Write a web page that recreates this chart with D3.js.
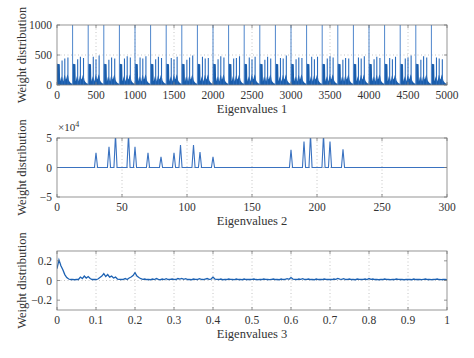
<!DOCTYPE html>
<html>
<head>
<meta charset="utf-8">
<script src="https://cdn.jsdelivr.net/npm/d3@7"></script>
<style>
  body { margin: 0; background: #fff; }
  text { font-family: "Liberation Serif", "Times New Roman", serif; fill: #333; }
</style>
</head>
<body>
<svg width="474" height="358"></svg>
<script>
// ---- panel 1 data ----
const periodStart1 = [0, 200, 400, 600, 800, 1000, 1200, 1400, 1600, 1800, 2000, 2200, 2400,
  2600, 2800, 3000, 3200, 3400, 3600, 3800, 4000, 4200, 4400, 4600, 4800];
const tallX1 = [200, 400, 600, 800, 1000, 1200, 1400, 1600, 1800, 2000, 2200, 2400,
  2600, 2800, 3000, 3200, 3400, 3600, 3800, 4000, 4200, 4400, 4600, 4800];
// envelope of the dense part inside one period
const envOffsets1 = [0, 2, 36, 40, 48, 56, 60, 64, 72, 80, 88, 96, 104, 112, 120, 128, 136, 144, 152, 160, 170, 180, 190, 199];
const envLevels1 = [340, 355, 345, 60, 110, 150, 90, 140, 100, 60, 120, 170, 150, 90, 110, 150, 180, 140, 80, 60, 40, 30, 25, 20];
// medium spikes in each period
const midOffsets1 = [65, 100, 140];
const midA1 = [410, 430, 470, 420, 440, 460, 430, 450, 420, 470, 430, 440, 460, 420, 450, 430, 470, 440, 420, 460, 430, 450, 440, 420, 460];
const midB1 = [440, 470, 430, 460, 480, 440, 470, 430, 460, 440, 480, 450, 430, 470, 440, 460, 430, 480, 450, 440, 470, 430, 460, 480, 440];
const midC1 = [460, 450, 490, 440, 460, 480, 450, 470, 490, 450, 460, 480, 470, 440, 490, 450, 470, 460, 440, 480, 450, 470, 490, 460, 430];
const xTicks1 = [0, 500, 1000, 1500, 2000, 2500, 3000, 3500, 4000, 4500, 5000];
const yTicks1 = [0, 500, 1000];

// ---- panel 2 data (x10^4) ----
const peakX2 = [30, 40, 45, 55, 60, 70, 80, 90, 95, 105, 110, 120, 180, 190, 195, 205, 210, 220];
const peakY2 = [2.5, 3.5, 5.6, 5.6, 3.5, 2.5, 1.8, 2.5, 3.8, 3.8, 2.6, 1.8, 3.0, 4.4, 5.6, 5.6, 4.4, 3.1];
const xTicks2 = [0, 50, 100, 150, 200, 250, 300];
const yTicks2 = [-5, 0, 5];

// ---- panel 3 data (step 0.005) ----
const values3 = [
  0.12, 0.21, 0.15, 0.11, 0.06, 0.03, 0.015, 0.01, 0.012, 0.008, 0.012, 0.01, 0.035, 0.02, 0.045, 0.025, 0.04, 0.02, 0.01, 0.012,
  0.01, 0.015, 0.03, 0.045, 0.07, 0.04, 0.06, 0.035, 0.045, 0.025, 0.035, 0.015, 0.012, 0.01, 0.012, 0.02, 0.01, 0.025, 0.035, 0.05,
  0.08, 0.045, 0.03, 0.018, 0.012, 0.015, 0.01, 0.012, 0.008, 0.015, 0.01, 0.02, 0.012, 0.008, 0.015, 0.01, 0.018, 0.01, 0.012, 0.015,
  0.012, 0.01, 0.02, 0.015, 0.022, 0.012, 0.018, 0.01, 0.012, 0.008, 0.015, 0.012, 0.01, 0.018, 0.012, 0.01, 0.015, 0.02, 0.012, 0.015,
  0.035, 0.015, 0.012, 0.01, 0.015, 0.008, 0.012, 0.01, 0.015, 0.012, 0.01, 0.008, 0.015, 0.01, 0.012, 0.008, 0.015, 0.01, 0.012, 0.01,
  0.012, 0.015, 0.01, 0.008, 0.012, 0.01, 0.015, 0.012, 0.01, 0.008, 0.012, 0.015, 0.01, 0.012, 0.008, 0.015, 0.01, 0.012, 0.018, 0.012,
  0.03, 0.015, 0.012, 0.01, 0.015, 0.012, 0.018, 0.01, 0.012, 0.015, 0.01, 0.012, 0.008, 0.015, 0.01, 0.012, 0.01, 0.015, 0.012, 0.01,
  0.012, 0.01, 0.015, 0.012, 0.022, 0.015, 0.012, 0.018, 0.01, 0.012, 0.015, 0.01, 0.012, 0.008, 0.015, 0.012, 0.01, 0.012, 0.015, 0.01,
  0.02, 0.012, 0.015, 0.01, 0.012, 0.008, 0.012, 0.01, 0.015, 0.012, 0.01, 0.008, 0.012, 0.01, 0.015, 0.012, 0.01, 0.012, 0.008, 0.012,
  0.01, 0.012, 0.008, 0.015, 0.01, 0.012, 0.01, 0.008, 0.012, 0.015, 0.01, 0.012, 0.008, 0.01, 0.012, 0.015, 0.01, 0.008, 0.012, 0.01,
  0.008
];
const xTicks3 = [0, 0.1, 0.2, 0.3, 0.4, 0.5, 0.6, 0.7, 0.8, 0.9, 1];
const yTicks3 = [-0.2, 0, 0.2];

const svg = d3.select('svg');
const left = 57, right = 447;
const blue = '#1d62b3';

// draws the frame, grid and labels of one panel, returns the scales
function makePanel(opt) {
  const x = d3.scaleLinear().domain(opt.xDomain).range([left, right]);
  const y = d3.scaleLinear().domain(opt.yDomain).range([opt.bottom, opt.top]);
  const g = svg.append('g');

  g.append('clipPath').attr('id', opt.id)
    .append('rect').attr('x', left).attr('y', opt.top)
    .attr('width', right - left).attr('height', opt.bottom - opt.top);

  // grid
  g.selectAll('.gx').data(opt.xTicks.slice(1, -1)).enter().append('line')
    .attr('x1', d => x(d)).attr('x2', d => x(d))
    .attr('y1', opt.top).attr('y2', opt.bottom)
    .attr('stroke', '#b5b5b5').attr('stroke-width', 0.8).attr('stroke-dasharray', '1,2.5');
  g.selectAll('.gy').data(opt.yTicks.slice(1, -1)).enter().append('line')
    .attr('y1', d => y(d)).attr('y2', d => y(d))
    .attr('x1', left).attr('x2', right)
    .attr('stroke', '#b5b5b5').attr('stroke-width', 0.8).attr('stroke-dasharray', '1,2.5');

  const plot = svg.append('g').attr('clip-path', `url(#${opt.id})`);

  // frame and inner ticks, drawn after the data
  const frame = () => {
    const f = svg.append('g').attr('stroke', '#7a7a7a').attr('stroke-width', 0.8).attr('fill', 'none');
    f.append('rect').attr('x', left).attr('y', opt.top)
      .attr('width', right - left).attr('height', opt.bottom - opt.top);
    opt.xTicks.forEach(t => {
      f.append('line').attr('x1', x(t)).attr('x2', x(t)).attr('y1', opt.bottom).attr('y2', opt.bottom - 3);
      f.append('line').attr('x1', x(t)).attr('x2', x(t)).attr('y1', opt.top).attr('y2', opt.top + 3);
    });
    opt.yTicks.forEach(t => {
      f.append('line').attr('y1', y(t)).attr('y2', y(t)).attr('x1', left).attr('x2', left + 3);
      f.append('line').attr('y1', y(t)).attr('y2', y(t)).attr('x1', right).attr('x2', right - 3);
    });

    svg.append('g').selectAll('text').data(opt.xTicks).enter().append('text')
      .attr('x', d => x(d)).attr('y', opt.bottom + 14)
      .attr('text-anchor', 'middle').attr('font-size', 11.5)
      .text(opt.xFmt);
    svg.append('g').selectAll('text').data(opt.yTicks).enter().append('text')
      .attr('x', left - 5).attr('y', d => y(d) + 4)
      .attr('text-anchor', 'end').attr('font-size', 11.5)
      .text(opt.yFmt);

    svg.append('text').attr('x', (left + right) / 2).attr('y', opt.bottom + 28)
      .attr('text-anchor', 'middle').attr('font-size', 12.5).text(opt.xLabel);
    svg.append('text')
      .attr('transform', `translate(26,${(opt.top + opt.bottom) / 2}) rotate(-90)`)
      .attr('text-anchor', 'middle').attr('font-size', 12.5).text('Weight distribution');
  };
  return { x, y, plot, frame };
}

const fmtMinus = d => String(d).replace('-', '\u2212');

// ---- panel 1 ----
const p1 = makePanel({
  id: 'c1', top: 25, bottom: 85, xDomain: [0, 5000], yDomain: [0, 1000],
  xTicks: xTicks1, yTicks: yTicks1, xFmt: d => d, yFmt: d => d, xLabel: 'Eigenvalues 1'
});
const env1 = [];
periodStart1.forEach(s => envOffsets1.forEach((o, i) => env1.push([s + o, envLevels1[i]])));
p1.plot.append('path').datum(env1)
  .attr('d', d3.area().x(d => p1.x(d[0])).y0(p1.y(0)).y1(d => p1.y(d[1])))
  .attr('fill', '#1a5dab');
const spikes1 = [];
periodStart1.forEach((s, k) => {
  [midA1[k], midB1[k], midC1[k]].forEach((h, j) => spikes1.push([s + midOffsets1[j], h]));
});
p1.plot.append('path')
  .attr('d', spikes1.map(d => `M${p1.x(d[0])},${p1.y(0)}V${p1.y(d[1])}`).join(''))
  .attr('stroke', '#2b6cbd').attr('stroke-width', 1.1);
p1.plot.append('path')
  .attr('d', tallX1.map(d => `M${p1.x(d)},${p1.y(0)}V${p1.y(1100)}`).join(''))
  .attr('stroke', '#4f86cc').attr('stroke-width', 1);
p1.frame();

// ---- panel 2 ----
const p2 = makePanel({
  id: 'c2', top: 138, bottom: 197, xDomain: [0, 300], yDomain: [-5, 5],
  xTicks: xTicks2, yTicks: yTicks2, xFmt: d => d, yFmt: fmtMinus, xLabel: 'Eigenvalues 2'
});
const line2 = [[0, 0]];
peakX2.forEach((px, i) => { line2.push([px - 1.2, 0], [px, peakY2[i]], [px + 1.2, 0]); });
line2.push([300, 0]);
p2.plot.append('path').datum(line2)
  .attr('d', d3.line().x(d => p2.x(d[0])).y(d => p2.y(d[1])))
  .attr('fill', 'none').attr('stroke', '#3a72c0').attr('stroke-width', 1.1);
p2.frame();
const exp2 = svg.append('text').attr('x', 58).attr('y', 131).attr('font-size', 11);
exp2.append('tspan').text('\u00d710');
exp2.append('tspan').attr('font-size', 8).attr('dy', -4).text('4');

// ---- panel 3 ----
const p3 = makePanel({
  id: 'c3', top: 251, bottom: 310, xDomain: [0, 1], yDomain: [-0.3, 0.3],
  xTicks: xTicks3, yTicks: yTicks3, xFmt: d => d, yFmt: fmtMinus, xLabel: 'Eigenvalues 3'
});
p3.plot.append('path').datum(values3)
  .attr('d', d3.line().x((d, i) => p3.x(i * 0.005)).y(d => p3.y(d)))
  .attr('fill', 'none').attr('stroke', blue).attr('stroke-width', 1.3);
p3.frame();
</script>
</body>
</html>
